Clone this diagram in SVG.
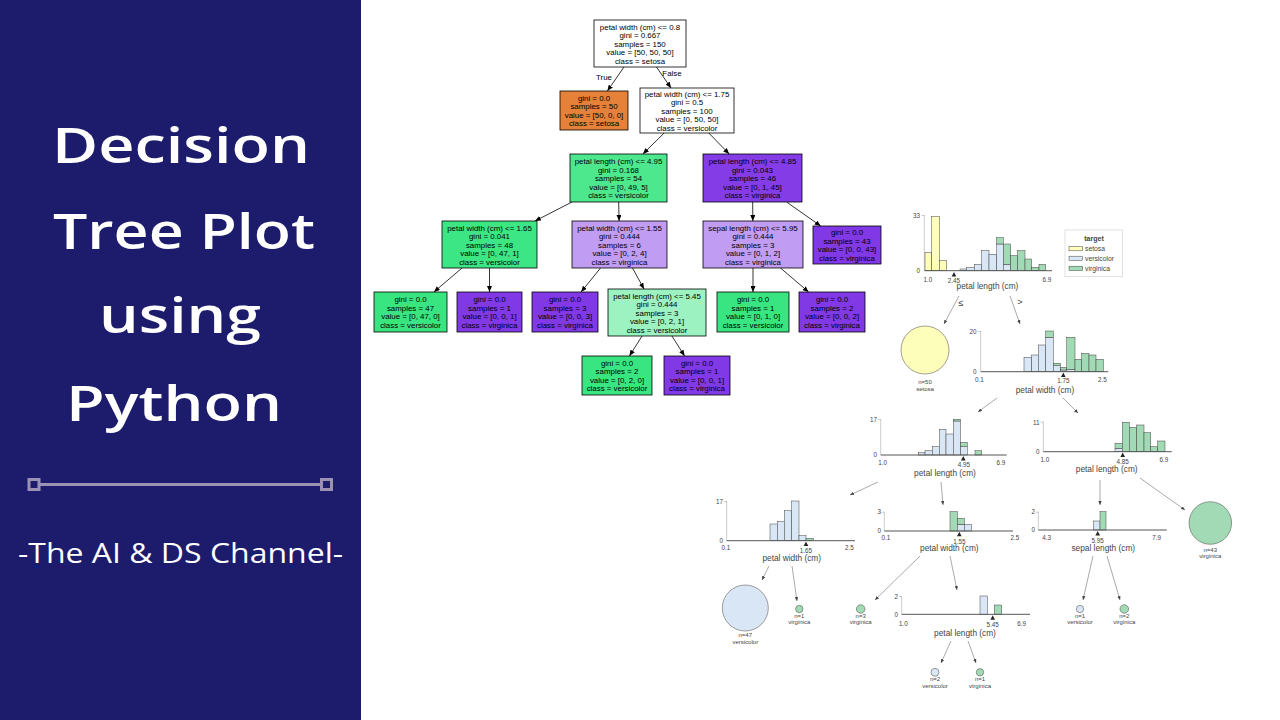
<svg xmlns="http://www.w3.org/2000/svg" width="1280" height="720" viewBox="0 0 1280 720">
<defs>
<marker id="ah" markerUnits="userSpaceOnUse" markerWidth="6" markerHeight="5" refX="6" refY="2.5" orient="auto"><path d="M0,0 L6,2.5 L0,5 z" fill="#000"/></marker>
<marker id="ag" markerUnits="userSpaceOnUse" markerWidth="4" markerHeight="3.4" refX="4" refY="1.7" orient="auto"><path d="M0,0 L4,1.7 L0,3.4 z" fill="#444443"/></marker>
<style>
.title{font-family:"Open Sans","DejaVu Sans",sans-serif;font-weight:600;fill:#fff;font-size:49px}
.sub{font-family:"Open Sans","DejaVu Sans",sans-serif;font-weight:500;fill:#fff;font-size:28px}
.sk rect{stroke:#000;stroke-width:0.8}
.sk text{font-family:"Liberation Sans",Arial,sans-serif;font-size:7.9px;fill:#000;text-anchor:middle}
.ske line{stroke:#000;stroke-width:0.8;marker-end:url(#ah)}
.skl{font-family:"Liberation Sans",Arial,sans-serif;font-size:7.9px;fill:#000;text-anchor:middle}
.dv text{font-family:"Liberation Sans",Arial,sans-serif;fill:#444443;text-anchor:middle}
.tk{font-size:6.3px}
.yl{font-size:6.3px;text-anchor:end !important}
.xl{font-size:8.3px}
.lf{font-size:6px}
.ya{stroke:#999;stroke-width:0.5}
.xa{stroke:#555;stroke-width:1}
.bs{fill:#fefebb;stroke:#444443;stroke-width:0.5}
.bv{fill:#d9e6f5;stroke:#444443;stroke-width:0.5}
.bg{fill:#a1dab4;stroke:#444443;stroke-width:0.5}
.tri{fill:#222}
.dve line{stroke:#555;stroke-width:0.5;marker-end:url(#ag)}
</style>
</defs>
<rect x="0" y="0" width="1280" height="720" fill="#ffffff"/>
<rect x="0" y="0" width="361" height="720" fill="#1d1c6c"/>
<g id="title">
<text class="title" x="52" y="163" textLength="258" lengthAdjust="spacingAndGlyphs">Decision</text>
<text class="title" x="53" y="249" textLength="262" lengthAdjust="spacingAndGlyphs">Tree Plot</text>
<text class="title" x="99" y="333" textLength="162" lengthAdjust="spacingAndGlyphs">using</text>
<text class="title" x="66" y="421" textLength="216" lengthAdjust="spacingAndGlyphs">Python</text>
<line x1="40" y1="484.5" x2="321" y2="484.5" stroke="#9b92b3" stroke-width="3"/>
<rect x="29" y="479.5" width="10" height="10" fill="#1d1c6c" stroke="#9b92b3" stroke-width="3"/>
<rect x="321.5" y="479.5" width="10" height="10" fill="#1d1c6c" stroke="#9b92b3" stroke-width="3"/>
<text class="sub" x="18" y="563" textLength="325" lengthAdjust="spacingAndGlyphs">-The AI &amp; DS Channel-</text>
</g>

<g class="ske" id="sk-edges">
<line x1="624" y1="67" x2="607.4" y2="91"/>
<line x1="656.5" y1="67" x2="671" y2="88"/>
<line x1="664.2" y1="133" x2="642.9" y2="154"/>
<line x1="708.8" y1="133" x2="729.2" y2="154"/>
<line x1="572" y1="202" x2="535" y2="221"/>
<line x1="618.7" y1="202" x2="619.1" y2="221"/>
<line x1="752.7" y1="202" x2="752.8" y2="221"/>
<line x1="786.6" y1="202" x2="820.7" y2="226"/>
<line x1="462" y1="268" x2="433.9" y2="292"/>
<line x1="489.5" y1="268" x2="489.5" y2="292"/>
<line x1="600.5" y1="268" x2="581.1" y2="292"/>
<line x1="632.5" y1="268" x2="644" y2="289"/>
<line x1="753" y1="268" x2="753" y2="292"/>
<line x1="780.5" y1="268" x2="808.6" y2="292"/>
<line x1="642.1" y1="336" x2="629.4" y2="356"/>
<line x1="671.9" y1="336" x2="684.6" y2="356"/>
</g>
<text class="skl" x="604" y="79.5">True</text>
<text class="skl" x="672" y="75.5">False</text>

<g class="sk">
<g id="n0"><rect x="594" y="20" width="92" height="47" fill="#ffffff"/><text y="29.5"><tspan x="640">petal width (cm) &lt;= 0.8</tspan><tspan x="640" dy="8.5">gini = 0.667</tspan><tspan x="640" dy="8.5">samples = 150</tspan><tspan x="640" dy="8.5">value = [50, 50, 50]</tspan><tspan x="640" dy="8.5">class = setosa</tspan></text></g>
<g id="n1"><rect x="560" y="91" width="68" height="39" fill="#e58139"/><text y="100.8"><tspan x="594">gini = 0.0</tspan><tspan x="594" dy="8.5">samples = 50</tspan><tspan x="594" dy="8.5">value = [50, 0, 0]</tspan><tspan x="594" dy="8.5">class = setosa</tspan></text></g>
<g id="n2"><rect x="640" y="88" width="94" height="45" fill="#ffffff"/><text y="96.8"><tspan x="687">petal width (cm) &lt;= 1.75</tspan><tspan x="687" dy="8.5">gini = 0.5</tspan><tspan x="687" dy="8.5">samples = 100</tspan><tspan x="687" dy="8.5">value = [0, 50, 50]</tspan><tspan x="687" dy="8.5">class = versicolor</tspan></text></g>
<g id="n3"><rect x="570" y="154" width="97" height="48" fill="#4de88e"/><text y="164"><tspan x="618.5">petal length (cm) &lt;= 4.95</tspan><tspan x="618.5" dy="8.5">gini = 0.168</tspan><tspan x="618.5" dy="8.5">samples = 54</tspan><tspan x="618.5" dy="8.5">value = [0, 49, 5]</tspan><tspan x="618.5" dy="8.5">class = versicolor</tspan></text></g>
<g id="n4"><rect x="703" y="154" width="99" height="48" fill="#843de6"/><text y="164"><tspan x="752.5">petal length (cm) &lt;= 4.85</tspan><tspan x="752.5" dy="8.5">gini = 0.043</tspan><tspan x="752.5" dy="8.5">samples = 46</tspan><tspan x="752.5" dy="8.5">value = [0, 1, 45]</tspan><tspan x="752.5" dy="8.5">class = virginica</tspan></text></g>
<g id="n5"><rect x="442" y="221" width="95" height="47" fill="#3de684"/><text y="230.5"><tspan x="489.5">petal width (cm) &lt;= 1.65</tspan><tspan x="489.5" dy="8.5">gini = 0.041</tspan><tspan x="489.5" dy="8.5">samples = 48</tspan><tspan x="489.5" dy="8.5">value = [0, 47, 1]</tspan><tspan x="489.5" dy="8.5">class = versicolor</tspan></text></g>
<g id="n6"><rect x="572" y="221" width="95" height="47" fill="#c09cf2"/><text y="230.5"><tspan x="619.5">petal width (cm) &lt;= 1.55</tspan><tspan x="619.5" dy="8.5">gini = 0.444</tspan><tspan x="619.5" dy="8.5">samples = 6</tspan><tspan x="619.5" dy="8.5">value = [0, 2, 4]</tspan><tspan x="619.5" dy="8.5">class = virginica</tspan></text></g>
<g id="n7"><rect x="703" y="221" width="100" height="47" fill="#c09cf2"/><text y="230.5"><tspan x="753">sepal length (cm) &lt;= 5.95</tspan><tspan x="753" dy="8.5">gini = 0.444</tspan><tspan x="753" dy="8.5">samples = 3</tspan><tspan x="753" dy="8.5">value = [0, 1, 2]</tspan><tspan x="753" dy="8.5">class = virginica</tspan></text></g>
<g id="n8"><rect x="813" y="226" width="68" height="38" fill="#8139e5"/><text y="235.3"><tspan x="847">gini = 0.0</tspan><tspan x="847" dy="8.5">samples = 43</tspan><tspan x="847" dy="8.5">value = [0, 0, 43]</tspan><tspan x="847" dy="8.5">class = virginica</tspan></text></g>
<g id="n9"><rect x="374" y="292" width="73" height="40" fill="#39e581"/><text y="302.3"><tspan x="410.5">gini = 0.0</tspan><tspan x="410.5" dy="8.5">samples = 47</tspan><tspan x="410.5" dy="8.5">value = [0, 47, 0]</tspan><tspan x="410.5" dy="8.5">class = versicolor</tspan></text></g>
<g id="n10"><rect x="457" y="292" width="65" height="40" fill="#8139e5"/><text y="302.3"><tspan x="489.5">gini = 0.0</tspan><tspan x="489.5" dy="8.5">samples = 1</tspan><tspan x="489.5" dy="8.5">value = [0, 0, 1]</tspan><tspan x="489.5" dy="8.5">class = virginica</tspan></text></g>
<g id="n11"><rect x="532" y="292" width="66" height="40" fill="#8139e5"/><text y="302.3"><tspan x="565">gini = 0.0</tspan><tspan x="565" dy="8.5">samples = 3</tspan><tspan x="565" dy="8.5">value = [0, 0, 3]</tspan><tspan x="565" dy="8.5">class = virginica</tspan></text></g>
<g id="n12"><rect x="608" y="289" width="98" height="47" fill="#9cf2c0"/><text y="298.5"><tspan x="657">petal length (cm) &lt;= 5.45</tspan><tspan x="657" dy="8.5">gini = 0.444</tspan><tspan x="657" dy="8.5">samples = 3</tspan><tspan x="657" dy="8.5">value = [0, 2, 1]</tspan><tspan x="657" dy="8.5">class = versicolor</tspan></text></g>
<g id="n13"><rect x="717" y="292" width="72" height="40" fill="#39e581"/><text y="302.3"><tspan x="753">gini = 0.0</tspan><tspan x="753" dy="8.5">samples = 1</tspan><tspan x="753" dy="8.5">value = [0, 1, 0]</tspan><tspan x="753" dy="8.5">class = versicolor</tspan></text></g>
<g id="n14"><rect x="799" y="292" width="66" height="40" fill="#8139e5"/><text y="302.3"><tspan x="832">gini = 0.0</tspan><tspan x="832" dy="8.5">samples = 2</tspan><tspan x="832" dy="8.5">value = [0, 0, 2]</tspan><tspan x="832" dy="8.5">class = virginica</tspan></text></g>
<g id="n15"><rect x="582" y="356" width="70" height="39" fill="#39e581"/><text y="365.8"><tspan x="617">gini = 0.0</tspan><tspan x="617" dy="8.5">samples = 2</tspan><tspan x="617" dy="8.5">value = [0, 2, 0]</tspan><tspan x="617" dy="8.5">class = versicolor</tspan></text></g>
<g id="n16"><rect x="664" y="356" width="66" height="39" fill="#8139e5"/><text y="365.8"><tspan x="697">gini = 0.0</tspan><tspan x="697" dy="8.5">samples = 1</tspan><tspan x="697" dy="8.5">value = [0, 0, 1]</tspan><tspan x="697" dy="8.5">class = virginica</tspan></text></g>
</g>

<g class="dve" id="dv-edges">
<line x1="959" y1="296" x2="944" y2="324"/>
<line x1="1010" y1="296" x2="1020" y2="324"/>
<line x1="997" y1="398" x2="978" y2="412"/>
<line x1="1063" y1="398" x2="1078" y2="413"/>
<line x1="878" y1="482" x2="850" y2="495"/>
<line x1="941" y1="482" x2="943" y2="505"/>
<line x1="1100" y1="480" x2="1100" y2="505"/>
<line x1="1140" y1="478" x2="1185" y2="510"/>
<line x1="769" y1="566" x2="762" y2="580"/>
<line x1="792" y1="566" x2="797" y2="601"/>
<line x1="920" y1="556" x2="875" y2="600"/>
<line x1="950" y1="556" x2="957" y2="590"/>
<line x1="951" y1="641" x2="941" y2="663"/>
<line x1="968" y1="641" x2="976" y2="663"/>
<line x1="1093" y1="556" x2="1083" y2="600"/>
<line x1="1107" y1="556" x2="1120" y2="600"/>
</g>

<g class="dv">
<text x="961" y="306" font-size="9">≤</text>
<text x="1020" y="305" font-size="9">&gt;</text>

<g id="h-root">
<line class="ya" x1="924.3" y1="215" x2="924.3" y2="270.7"/>
<line class="ya" x1="921.5" y1="215.5" x2="924.3" y2="215.5"/>
<rect class="bs" x="925" y="252.7" width="6.7" height="18"/>
<rect class="bs" x="931.7" y="216.7" width="7.6" height="54"/>
<rect class="bs" x="939.3" y="260.7" width="7.4" height="10"/>
<rect class="bv" x="960" y="269" width="6.7" height="1.7"/>
<rect class="bv" x="966.7" y="267.3" width="7.6" height="3.4"/>
<rect class="bv" x="974.3" y="264.3" width="7.4" height="6.4"/>
<rect class="bv" x="981.7" y="250.7" width="7.3" height="20"/>
<rect class="bv" x="989" y="254.3" width="7.7" height="16.4"/>
<rect class="bv" x="996.7" y="244" width="6.6" height="26.7"/>
<rect class="bg" x="996.7" y="237.7" width="6.6" height="6.3"/>
<rect class="bv" x="1003.3" y="264.3" width="7.4" height="6.4"/>
<rect class="bg" x="1003.3" y="244" width="7.4" height="20.3"/>
<rect class="bg" x="1010.7" y="255.7" width="7" height="15"/>
<rect class="bg" x="1017.7" y="250.7" width="7.3" height="20"/>
<rect class="bg" x="1025" y="259" width="6.7" height="11.7"/>
<rect class="bg" x="1031.7" y="267.3" width="7.3" height="3.4"/>
<rect class="bg" x="1039" y="264.3" width="6.7" height="6.4"/>
<line class="xa" x1="924.3" y1="270.7" x2="1052" y2="270.7"/>
<path class="tri" d="M954,272 L956.3,276.5 L951.7,276.5 z"/>
<text class="yl" x="920" y="218">33</text>
<text class="yl" x="920" y="273">0</text>
<text class="tk" x="928" y="281.5">1.0</text>
<text class="tk" x="954" y="282.5">2.45</text>
<text class="tk" x="1047" y="281.5">6.9</text>
<text class="xl" x="987.5" y="289">petal length (cm)</text>
</g>

<g id="legend">
<rect x="1065" y="230" width="57.7" height="46.7" fill="#fff" stroke="#ccc" stroke-width="0.6"/>
<text x="1094" y="240.5" font-size="7" font-weight="bold">target</text>
<rect class="bs" x="1069" y="246.5" width="13.7" height="4.3"/>
<rect class="bv" x="1069" y="256.2" width="13.7" height="4.3"/>
<rect class="bg" x="1069" y="266.2" width="13.7" height="4.3"/>
<text x="1085" y="251" font-size="6.8" style="text-anchor:start">setosa</text>
<text x="1085" y="260.8" font-size="6.8" style="text-anchor:start">versicolor</text>
<text x="1085" y="270.8" font-size="6.8" style="text-anchor:start">virginica</text>
</g>

<g id="leaf-setosa">
<circle cx="925" cy="350" r="24" class="bs"/>
<text class="lf" x="925" y="383.7">n=50</text>
<text class="lf" x="925" y="391">setosa</text>
</g>

<g id="h-node2">
<line class="ya" x1="980.7" y1="331" x2="980.7" y2="371.7"/>
<line class="ya" x1="977.9" y1="331.5" x2="980.7" y2="331.5"/>
<rect class="bv" x="1024" y="357.3" width="7.7" height="14.4"/>
<rect class="bv" x="1031.7" y="355" width="6.6" height="16.7"/>
<rect class="bv" x="1038.3" y="345" width="7.4" height="26.7"/>
<rect class="bv" x="1045.7" y="337.3" width="7.6" height="34.4"/>
<rect class="bg" x="1045.7" y="331" width="7.6" height="6.3"/>
<rect class="bv" x="1053.3" y="365.7" width="7.4" height="6"/>
<rect class="bg" x="1053.3" y="363.3" width="7.4" height="2.4"/>
<rect class="bv" x="1060.7" y="370" width="6" height="1.7"/>
<rect class="bg" x="1060.7" y="367.3" width="6" height="2.7"/>
<rect class="bv" x="1066.7" y="369.3" width="8.3" height="2.4"/>
<rect class="bg" x="1066.7" y="337.3" width="8.3" height="32"/>
<rect class="bg" x="1075" y="359.3" width="6.7" height="12.4"/>
<rect class="bg" x="1081.7" y="353.3" width="7.3" height="18.4"/>
<rect class="bg" x="1089" y="355" width="7" height="16.7"/>
<rect class="bg" x="1096" y="359.3" width="7.3" height="12.4"/>
<line class="xa" x1="980.7" y1="371.7" x2="1108.3" y2="371.7"/>
<path class="tri" d="M1063.3,372.5 L1065.6,377 L1061,377 z"/>
<text class="yl" x="976.5" y="334">20</text>
<text class="yl" x="976.5" y="374">0</text>
<text class="tk" x="979.3" y="381.5">0.1</text>
<text class="tk" x="1063.3" y="383">1.75</text>
<text class="tk" x="1102.3" y="381.5">2.5</text>
<text class="xl" x="1045" y="393">petal width (cm)</text>
</g>

<g id="h-node3">
<line class="ya" x1="880.7" y1="419" x2="880.7" y2="455"/>
<line class="ya" x1="877.9" y1="419.5" x2="880.7" y2="419.5"/>
<rect class="bv" x="918.3" y="452.7" width="6.7" height="2.3"/>
<rect class="bv" x="925" y="450.7" width="7.3" height="4.3"/>
<rect class="bv" x="932.3" y="446.7" width="7" height="8.3"/>
<rect class="bv" x="939.3" y="429.3" width="6.7" height="25.7"/>
<rect class="bv" x="946" y="434" width="7.3" height="21"/>
<rect class="bv" x="953.3" y="421" width="7.4" height="34"/>
<rect class="bg" x="953.3" y="419.3" width="7.4" height="1.7"/>
<rect class="bv" x="960.7" y="446.7" width="6.6" height="8.3"/>
<rect class="bg" x="960.7" y="442.3" width="6.6" height="4.4"/>
<rect class="bg" x="975" y="450.7" width="6.7" height="4.3"/>
<line class="xa" x1="880.7" y1="455" x2="1006.7" y2="455"/>
<path class="tri" d="M963.3,456 L965.6,460.5 L961,460.5 z"/>
<text class="yl" x="877" y="421.5">17</text>
<text class="yl" x="877" y="457">0</text>
<text class="tk" x="882.7" y="464.5">1.0</text>
<text class="tk" x="964" y="467">4.95</text>
<text class="tk" x="1001" y="464.5">6.9</text>
<text class="xl" x="945" y="475.5">petal length (cm)</text>
</g>

<g id="h-node4">
<line class="ya" x1="1043.3" y1="421.7" x2="1043.3" y2="451.7"/>
<line class="ya" x1="1040.5" y1="422.2" x2="1043.3" y2="422.2"/>
<rect class="bv" x="1115" y="448.3" width="7.3" height="3.4"/>
<rect class="bg" x="1115" y="443.3" width="7.3" height="5"/>
<rect class="bg" x="1122.3" y="422.3" width="7" height="29.4"/>
<rect class="bg" x="1129.3" y="427.3" width="7.4" height="24.4"/>
<rect class="bg" x="1136.7" y="425" width="7.3" height="26.7"/>
<rect class="bg" x="1144" y="432.7" width="6.7" height="19"/>
<rect class="bg" x="1150.7" y="446.7" width="7" height="5"/>
<rect class="bg" x="1157.7" y="441" width="7.3" height="10.7"/>
<line class="xa" x1="1043.3" y1="451.7" x2="1171.7" y2="451.7"/>
<path class="tri" d="M1122.7,452.5 L1125,457 L1120.4,457 z"/>
<text class="yl" x="1039.5" y="424.5">11</text>
<text class="yl" x="1039.5" y="454">0</text>
<text class="tk" x="1045" y="461.5">1.0</text>
<text class="tk" x="1122.7" y="464">4.85</text>
<text class="tk" x="1164" y="461.5">6.9</text>
<text class="xl" x="1106.7" y="471.5">petal length (cm)</text>
</g>

<g id="leaf-n43">
<circle cx="1210.3" cy="523" r="21.3" class="bg"/>
<text class="lf" x="1210.3" y="552">n=43</text>
<text class="lf" x="1210.3" y="558">virginica</text>
</g>

<g id="h-node5">
<line class="ya" x1="726.7" y1="501" x2="726.7" y2="540.7"/>
<line class="ya" x1="723.9" y1="501.5" x2="726.7" y2="501.5"/>
<rect class="bv" x="770" y="524" width="7.3" height="16.7"/>
<rect class="bv" x="777.3" y="521.7" width="7" height="19"/>
<rect class="bv" x="784.3" y="510.7" width="7.4" height="30"/>
<rect class="bv" x="791.7" y="501" width="7.3" height="39.7"/>
<rect class="bv" x="799" y="535.7" width="7" height="5"/>
<rect class="bg" x="806" y="538.3" width="7.3" height="2.4"/>
<line class="xa" x1="726.7" y1="540.7" x2="855" y2="540.7"/>
<path class="tri" d="M806,541.5 L808.3,546 L803.7,546 z"/>
<text class="yl" x="723" y="503.5">17</text>
<text class="yl" x="723" y="543">0</text>
<text class="tk" x="726" y="550">0.1</text>
<text class="tk" x="806" y="553">1.65</text>
<text class="tk" x="849.3" y="550">2.5</text>
<text class="xl" x="791.7" y="561">petal width (cm)</text>
</g>

<g id="leaf-n47">
<circle cx="745.3" cy="608" r="23" class="bv"/>
<text class="lf" x="745.3" y="637">n=47</text>
<text class="lf" x="745.3" y="644">versicolor</text>
</g>
<g id="leaf-n1a">
<circle cx="799.3" cy="609" r="3.7" class="bg"/>
<text class="lf" x="799.3" y="618">n=1</text>
<text class="lf" x="799.3" y="624">virginica</text>
</g>

<g id="h-node6">
<line class="ya" x1="884.3" y1="511.7" x2="884.3" y2="531"/>
<line class="ya" x1="881.5" y1="512.2" x2="884.3" y2="512.2"/>
<rect class="bg" x="950" y="511.7" width="7.3" height="19.3"/>
<rect class="bv" x="957.3" y="524.3" width="7" height="6.7"/>
<rect class="bg" x="957.3" y="518.3" width="7" height="6"/>
<rect class="bv" x="964.3" y="524.3" width="7.4" height="6.7"/>
<line class="xa" x1="884.3" y1="531" x2="1013" y2="531"/>
<path class="tri" d="M959.3,531.8 L961.6,536.3 L957,536.3 z"/>
<text class="yl" x="881" y="514">3</text>
<text class="yl" x="881" y="533">0</text>
<text class="tk" x="886" y="540">0.1</text>
<text class="tk" x="959.3" y="543.5">1.55</text>
<text class="tk" x="1015" y="540">2.5</text>
<text class="xl" x="949.3" y="550.5">petal width (cm)</text>
</g>

<g id="leaf-n3">
<circle cx="860.7" cy="609" r="4.3" class="bg"/>
<text class="lf" x="860.7" y="618">n=3</text>
<text class="lf" x="860.7" y="624">virginica</text>
</g>

<g id="h-node12">
<line class="ya" x1="901.7" y1="596" x2="901.7" y2="614.3"/>
<line class="ya" x1="898.9" y1="596.5" x2="901.7" y2="596.5"/>
<rect class="bv" x="980" y="596" width="7.3" height="18.3"/>
<rect class="bg" x="994.3" y="605" width="7.4" height="9.3"/>
<line class="xa" x1="901.7" y1="614.3" x2="1030" y2="614.3"/>
<path class="tri" d="M992.7,615.2 L995,619.7 L990.4,619.7 z"/>
<text class="yl" x="898" y="598.5">2</text>
<text class="yl" x="898" y="616.5">0</text>
<text class="tk" x="903.3" y="625.5">1.0</text>
<text class="tk" x="992.7" y="626.8">5.45</text>
<text class="tk" x="1021.7" y="625.5">6.9</text>
<text class="xl" x="965" y="635.5">petal length (cm)</text>
</g>

<g id="leaf-n2b">
<circle cx="935" cy="672.3" r="4" class="bv"/>
<text class="lf" x="935" y="681">n=2</text>
<text class="lf" x="935" y="688">versicolor</text>
</g>
<g id="leaf-n1b">
<circle cx="980" cy="672.3" r="3.7" class="bg"/>
<text class="lf" x="980" y="681">n=1</text>
<text class="lf" x="980" y="688">virginica</text>
</g>

<g id="h-node7">
<line class="ya" x1="1038.3" y1="511.7" x2="1038.3" y2="530"/>
<line class="ya" x1="1035.5" y1="512.2" x2="1038.3" y2="512.2"/>
<rect class="bv" x="1093.3" y="521" width="6.7" height="9"/>
<rect class="bg" x="1100" y="511.7" width="6" height="18.3"/>
<line class="xa" x1="1038.3" y1="530" x2="1166.7" y2="530"/>
<path class="tri" d="M1097.7,531 L1100,535.5 L1095.4,535.5 z"/>
<text class="yl" x="1035" y="514">2</text>
<text class="yl" x="1035" y="532">0</text>
<text class="tk" x="1046.7" y="540">4.3</text>
<text class="tk" x="1097.7" y="543">5.95</text>
<text class="tk" x="1156.7" y="540">7.9</text>
<text class="xl" x="1103.3" y="551">sepal length (cm)</text>
</g>

<g id="leaf-n1c">
<circle cx="1080" cy="609" r="3.7" class="bv"/>
<text class="lf" x="1080" y="618">n=1</text>
<text class="lf" x="1080" y="624">versicolor</text>
</g>
<g id="leaf-n2c">
<circle cx="1124.3" cy="609" r="4.3" class="bg"/>
<text class="lf" x="1124.3" y="618">n=2</text>
<text class="lf" x="1124.3" y="624">virginica</text>
</g>
</g>
</svg>
